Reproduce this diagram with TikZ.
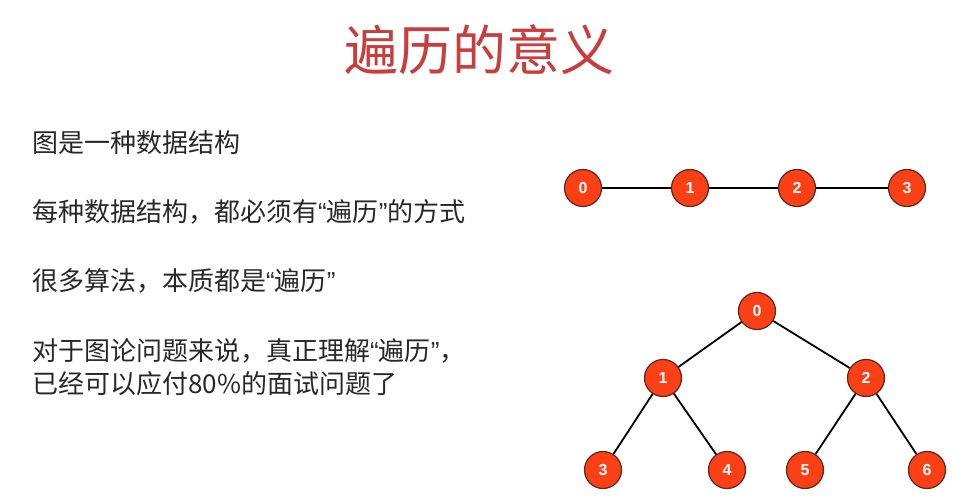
\documentclass[tikz,border=0pt]{standalone}
\usepackage{fontspec}
\newfontfamily\cjk{Noto Sans CJK SC}
\setsansfont{Liberation Sans}
\definecolor{nodefill}{RGB}{250,64,20}
\definecolor{nodeedge}{RGB}{90,40,30}
\definecolor{titlered}{RGB}{200,62,62}
\definecolor{txt}{RGB}{40,40,40}
\newcommand{\myopq}{{\sffamily“}}
\newcommand{\myclq}{{\sffamily”}}
\begin{document}
\begin{tikzpicture}[x=1pt,y=-1pt,
  vtx/.style={circle,fill=nodefill,draw=nodeedge,line width=1.2pt,minimum size=37pt,inner sep=0pt,text=white,font=\sffamily\bfseries\fontsize{16}{16}\selectfont},
  line/.style={line width=1.8pt,black},
  body/.style={anchor=west,text=txt,font=\cjk\fontsize{26}{30}\selectfont,inner sep=0pt}]
\useasboundingbox[fill=white] (0,0) rectangle (969,502);
\node[text=titlered,font=\cjk\fontsize{54}{58}\selectfont] (title) at (479,50) {遍历的意义};
\node[body] (l1) at (32,143) {图是一种数据结构};
\node[body] (l2) at (32,212) {每种数据结构，都必须有\myopq 遍历\myclq 的方式};
\node[body] (l3) at (32,281) {很多算法，本质都是\myopq 遍历\myclq};
\node[body] (l4) at (32,351) {对于图论问题来说，真正理解\myopq 遍历\myclq ，};
\node[body] (l5) at (32,384) {已经可以应付80\%的面试问题了};
\node[vtx] (a0) at (583,188) {0};
\node[vtx] (a1) at (690,188) {1};
\node[vtx] (a2) at (797,188) {2};
\node[vtx] (a3) at (907,188) {3};
\draw[line] (a0)--(a1) (a1)--(a2) (a2)--(a3);
\node[vtx] (t0) at (757,311) {0};
\node[vtx] (t1) at (663,378) {1};
\node[vtx] (t2) at (866,378) {2};
\node[vtx] (t3) at (603,470) {3};
\node[vtx] (t4) at (727,470) {4};
\node[vtx] (t5) at (805,470) {5};
\node[vtx] (t6) at (927,470) {6};
\draw[line] (t0)--(t1) (t0)--(t2) (t1)--(t3) (t1)--(t4) (t2)--(t5) (t2)--(t6);
\end{tikzpicture}
\end{document}
